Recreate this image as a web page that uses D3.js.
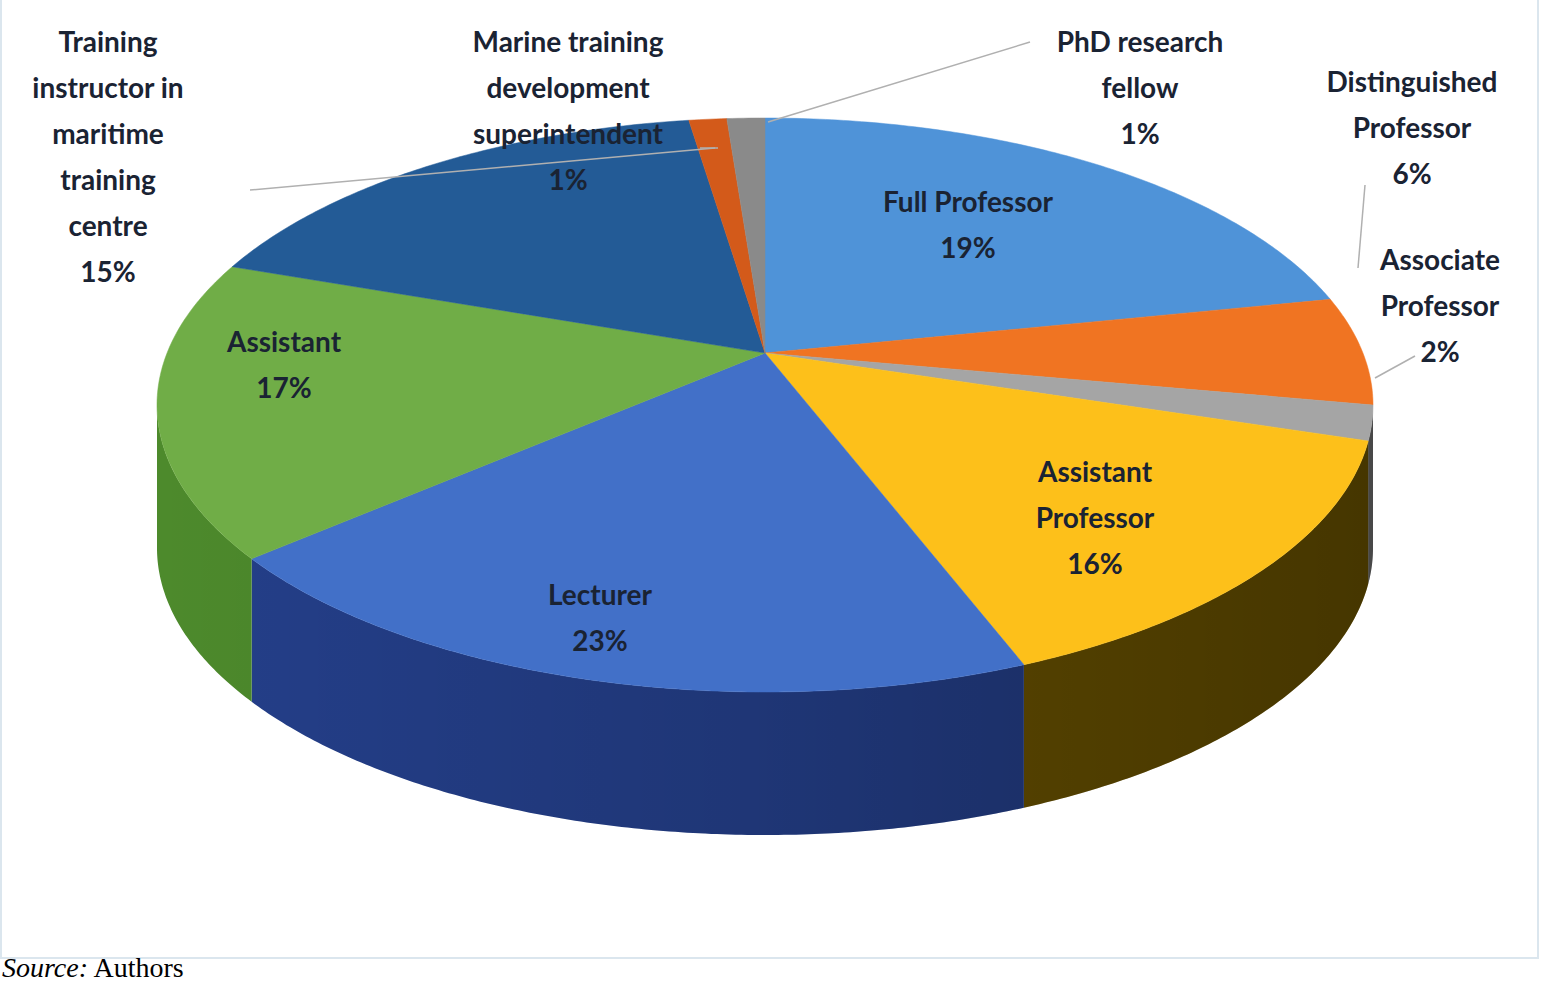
<!DOCTYPE html>
<html><head><meta charset="utf-8">
<script src="https://cdn.jsdelivr.net/npm/d3@7"></script>
<style>body{margin:0;background:#fff}</style></head>
<body><svg id="c" width="1557" height="982"></svg>
<script>
const categories = ["Full Professor","Distinguished Professor","Associate Professor","Assistant Professor","Lecturer","Assistant","Training instructor in maritime training centre","Marine training development superintendent","PhD research fellow"];
const values = [19,6,2,16,23,17,15,1,1];
const topColors = ["#4f93d8","#f07422","#a5a5a5","#fdc01a","#4270c8","#70ad47","#235b96","#d35a1a","#8a8a8a"];
const sideColors = ["#2f5f90","#9c4a10","#6e6e6e","#6b5300","#243f8a","#4d8a2c","#163a63","#8a3a10","#5a5a5a"];

const svg = d3.select("#c");
svg.append("rect").attr("x",1).attr("y",-5).attr("width",1537).attr("height",963).attr("fill","none").attr("stroke","#dbe6ee").attr("stroke-width",2);

const cx=765, cy=405, rx=608, ry=287, apexY=353, depth=143;
const pie = d3.pie().sort(null).value(d=>d)(values);
const pt=(t,dy=0)=>[cx+rx*Math.sin(t), cy-ry*Math.cos(t)+dy];
const arcPts=(a,b,dy=0)=>{const n=Math.max(2,Math.ceil((b-a)/0.01));return d3.range(n+1).map(i=>pt(a+(b-a)*i/n,dy));};
const line=d3.line();

const defs=svg.append("defs");
const g=defs.append("linearGradient").attr("id","shade").attr("x1",0).attr("x2",1);
g.append("stop").attr("offset",0).attr("stop-color","#000").attr("stop-opacity",0);
g.append("stop").attr("offset",0.5).attr("stop-color","#000").attr("stop-opacity",0.15);
g.append("stop").attr("offset",1).attr("stop-color","#000").attr("stop-opacity",0.35);

const sides=svg.append("g");
pie.forEach((d,i)=>{
  const a=Math.max(d.startAngle,Math.PI/2), b=Math.min(d.endAngle,3*Math.PI/2);
  if(b<=a) return;
  const top=arcPts(a,b), bot=arcPts(a,b,depth).reverse();
  sides.append("path").attr("d",line(top.concat(bot))+"Z").attr("fill",sideColors[i]);
});
sides.append("path").attr("d",line(arcPts(Math.PI/2,3*Math.PI/2).concat(arcPts(Math.PI/2,3*Math.PI/2,depth).reverse()))+"Z").attr("fill","url(#shade)");

pie.forEach((d,i)=>{
  const p=[[cx,apexY]].concat(arcPts(d.startAngle,d.endAngle));
  svg.append("path").attr("d",line(p)+"Z").attr("fill",topColors[i]).attr("stroke",topColors[i]).attr("stroke-width",0.5);
});

const leaders=[[[250,190],[715,148]],[[700,148],[718,148]],[[1030,42],[768,122]],[[1365,185],[1358,268]],[[1415,356],[1375,378]]];
leaders.forEach(l=>svg.append("path").attr("d",line(l)).attr("stroke","#b0b0b0").attr("stroke-width",1.5).attr("fill","none"));

const labelLayout=[
 [0,968,202,["Full Professor"]],
 [1,1412,82,["Distinguished","Professor"]],
 [2,1440,260,["Associate","Professor"]],
 [3,1095,472,["Assistant","Professor"]],
 [4,600,595,["Lecturer"]],
 [5,284,342,["Assistant"]],
 [6,108,42,["Training","instructor in","maritime","training","centre"]],
 [7,568,42,["Marine training","development","superintendent"]],
 [8,1140,42,["PhD research","fellow"]]
];
labelLayout.forEach(([i,x,y,lines])=>{
  const t=svg.append("text").attr("text-anchor","middle").attr("font-family","Lato, 'Open Sans', sans-serif")
    .attr("font-weight","bold").attr("font-size",28).attr("fill","#1a2333");
  lines.concat([values[i]+"%"]).forEach((s,k)=>t.append("tspan").attr("x",x).attr("y",y+10+k*46).text(s));
});

svg.append("text").attr("x",2).attr("y",977).attr("font-family","'Liberation Serif', serif").attr("font-size",28).attr("fill","#000")
  .html('<tspan font-style="italic">Source:</tspan> Authors');
</script></body></html>
